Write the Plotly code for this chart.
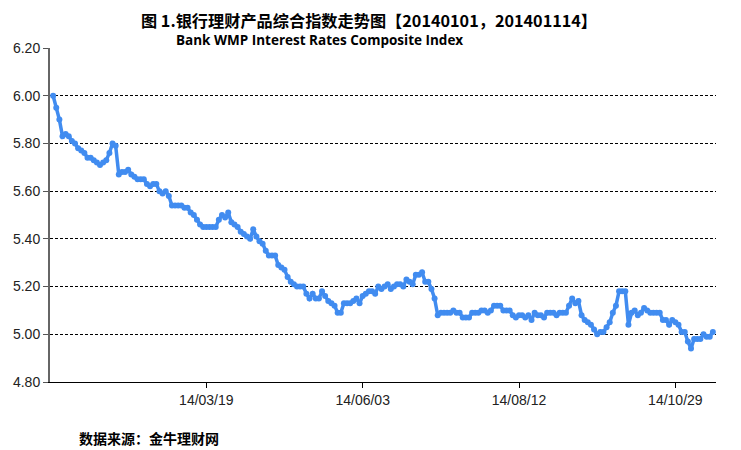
import pandas as pd
import plotly.graph_objects as go

# trading days 2014-01-02 .. 2014-11-14 (SSE holidays removed)
holidays = ['2014-01-31', '2014-02-03', '2014-02-04', '2014-02-05', '2014-02-06',
            '2014-04-07', '2014-05-01', '2014-05-02', '2014-06-02', '2014-09-08',
            '2014-10-01', '2014-10-02', '2014-10-03', '2014-10-06', '2014-10-07']
dates = pd.bdate_range('2014-01-02', '2014-11-14', freq='C', holidays=holidays).strftime('%y/%m/%d').tolist()

index_values = [
    6.00, 5.95, 5.90, 5.83, 5.84, 5.83, 5.81, 5.80, 5.78, 5.77,
    5.76, 5.74, 5.74, 5.73, 5.72, 5.71, 5.72, 5.73, 5.76, 5.80,
    5.79, 5.67, 5.68, 5.68, 5.69, 5.67, 5.66, 5.65, 5.65, 5.65,
    5.63, 5.62, 5.63, 5.63, 5.60, 5.59, 5.60, 5.58, 5.54, 5.54,
    5.54, 5.54, 5.53, 5.53, 5.51, 5.50, 5.48, 5.46, 5.45, 5.45,
    5.45, 5.45, 5.45, 5.48, 5.50, 5.49, 5.51, 5.47, 5.46, 5.45,
    5.43, 5.42, 5.41, 5.40, 5.44, 5.41, 5.39, 5.38, 5.35, 5.33,
    5.33, 5.33, 5.29, 5.28, 5.27, 5.24, 5.22, 5.21, 5.20, 5.20,
    5.20, 5.17, 5.15, 5.17, 5.15, 5.15, 5.18, 5.16, 5.14, 5.13,
    5.12, 5.09, 5.09, 5.13, 5.13, 5.13, 5.14, 5.15, 5.13, 5.16,
    5.17, 5.18, 5.18, 5.17, 5.20, 5.19, 5.20, 5.21, 5.19, 5.20,
    5.21, 5.21, 5.20, 5.23, 5.22, 5.21, 5.25, 5.25, 5.26, 5.22,
    5.22, 5.19, 5.15, 5.08, 5.09, 5.09, 5.09, 5.09, 5.10, 5.09,
    5.09, 5.07, 5.07, 5.07, 5.09, 5.09, 5.09, 5.10, 5.10, 5.09,
    5.10, 5.12, 5.12, 5.12, 5.10, 5.10, 5.10, 5.08, 5.07, 5.08,
    5.08, 5.07, 5.08, 5.06, 5.09, 5.08, 5.08, 5.07, 5.09, 5.09,
    5.09, 5.08, 5.09, 5.09, 5.09, 5.12, 5.15, 5.13, 5.14, 5.08,
    5.06, 5.05, 5.04, 5.02, 5.00, 5.01, 5.01, 5.03, 5.05, 5.09,
    5.12, 5.18, 5.18, 5.18, 5.04, 5.09, 5.10, 5.08, 5.09, 5.11,
    5.10, 5.09, 5.09, 5.09, 5.09, 5.06, 5.06, 5.04, 5.06, 5.05,
    5.04, 5.01, 5.01, 4.97, 4.94, 4.98, 4.98, 4.98, 5.00, 4.99,
    4.99, 5.01,
]

tick_labels = ['14/03/19', '14/06/03', '14/08/12', '14/10/29']

title_cn = '图 1.银行理财产品综合指数走势图【20140101，201401114】'
title_en = 'Bank WMP Interest Rates Composite Index'
source_note = '数据来源：金牛理财网'

cjk = 'Noto Sans CJK SC, sans-serif'
narrow = 'Liberation Sans Narrow, Arial Narrow, Liberation Sans, sans-serif'

fig = go.Figure()
fig.add_scatter(x=dates, y=index_values, mode='lines+markers',
                line=dict(color='#418CF0', width=3.5),
                marker=dict(color='#418CF0', size=6),
                showlegend=False)

# page body adds an 8px margin, so the figure is 8px smaller than the window
fig.update_layout(
    width=733, height=442,
    margin=dict(l=42, r=25, t=40, b=68),
    paper_bgcolor='white', plot_bgcolor='white',
    font=dict(family=narrow, size=14, color='#222222'),
    annotations=[
        dict(text='<b>' + title_cn + '</b>', xref='paper', yref='paper', x=0.479, y=1.0,
             xanchor='center', yanchor='bottom', yshift=15, showarrow=False, borderpad=0,
             font=dict(family=cjk, size=16.2, color='black')),
        dict(text='<b>' + title_en + '</b>', xref='paper', yref='paper', x=0.404, y=1.0,
             xanchor='center', yanchor='bottom', yshift=-3, showarrow=False,
             font=dict(family='Open Sans, sans-serif', size=13.5, color='black')),
        dict(text='<b>' + source_note + '</b>', xref='paper', yref='paper', x=0.04, y=0,
             xanchor='left', yanchor='top', yshift=-44, showarrow=False,
             font=dict(family=cjk, size=14, color='black')),
    ],
)

fig.update_xaxes(
    type='category', range=[-1, len(dates)], automargin=False,
    tickvals=tick_labels, ticktext=tick_labels,
    ticks='outside', ticklen=5, tickcolor='black',
    showline=True, linecolor='black', linewidth=1,
    showgrid=False, zeroline=False,
)
fig.update_yaxes(
    range=[4.8, 6.2], dtick=0.2, tick0=4.8, tickformat='.2f', automargin=False,
    ticks='outside', ticklen=5, tickcolor='#555555',
    showline=True, linecolor='#666666', linewidth=2,
    showgrid=True, gridcolor='black', gridwidth=1, griddash='3px,2px',
    zeroline=False,
)

fig.write_html('out.html')
